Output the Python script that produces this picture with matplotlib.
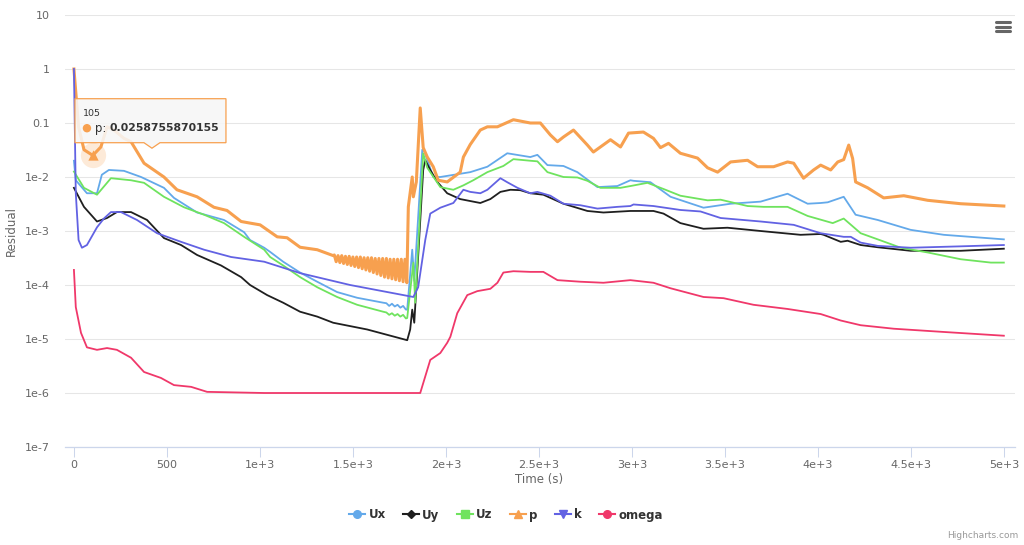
"""Residuals of a CFD run over time, drawn the way the Highcharts page shows them."""

import matplotlib

matplotlib.use("Agg")
import matplotlib.pyplot as plt
import matplotlib.patches as mpatches
import matplotlib.transforms as mtransforms
from matplotlib.lines import Line2D
from matplotlib.ticker import FixedLocator, FixedFormatter

# ---- data ----
ux_t = [0, 10, 70, 124, 150, 188, 269, 361, 484, 538, 662, 807, 915, 947, 1023, 1055, 1125,
        1216, 1308, 1415, 1523, 1663, 1680, 1695, 1710, 1725, 1740, 1755, 1770, 1785, 1792,
        1819, 1830, 1873, 1884, 1932, 1970, 2131, 2223, 2330, 2454, 2492, 2546, 2632, 2707,
        2815, 2922, 2992, 3009, 3100, 3208, 3385, 3531, 3692, 3837, 3945, 4015, 4053, 4139,
        4203, 4322, 4499, 4677, 5000]
ux_v = [0.02, 0.0087, 0.005, 0.005, 0.011, 0.0135, 0.013, 0.01, 0.0063, 0.0041, 0.0022,
        0.0016, 0.00095, 0.00068, 0.00049, 0.00041, 0.00027, 0.00017, 0.000115, 7.4e-5,
        5.8e-5, 4.7e-5, 4.6e-5, 4.1e-5, 4.5e-5, 4.0e-5, 4.3e-5, 3.8e-5, 4.1e-5, 3.5e-5,
        3.5e-5, 4.5e-4, 1.2e-4, 0.032, 0.03, 0.01, 0.01, 0.0123, 0.0155, 0.0275, 0.0234,
        0.0257, 0.0166, 0.016, 0.0123, 0.0065, 0.0068, 0.0087, 0.0085, 0.008, 0.0043,
        0.0027, 0.0032, 0.0035, 0.0049, 0.0032, 0.0033, 0.0034, 0.0043, 0.002, 0.0016,
        0.00105, 0.00085, 0.0007]

uy_t = [0, 54, 124, 178, 231, 307, 393, 484, 576, 662, 791, 899, 947, 1039, 1125, 1216,
        1308, 1394, 1577, 1792, 1808, 1819, 1830, 1878, 1889, 1916, 1954, 2007, 2077, 2185,
        2239, 2293, 2347, 2400, 2454, 2524, 2632, 2761, 2847, 2992, 3116, 3170, 3261, 3385,
        3514, 3692, 3907, 4015, 4031, 4123, 4160, 4230, 4322, 4499, 4768, 5000]
uy_v = [0.0063, 0.0028, 0.0015, 0.00174, 0.00224, 0.00224, 0.0016, 0.00074, 0.00055,
        0.00036, 0.00023, 0.00014, 0.0001, 6.5e-5, 4.7e-5, 3.2e-5, 2.6e-5, 2e-5, 1.5e-5,
        9.5e-6, 1.5e-5, 3.5e-5, 2e-5, 0.0135, 0.0204, 0.0135, 0.0081, 0.005, 0.0039, 0.0033,
        0.0039, 0.0053, 0.0058, 0.0057, 0.005, 0.0047, 0.0032, 0.00235, 0.0022, 0.00235,
        0.00235, 0.0021, 0.0014, 0.0011, 0.00115, 0.001, 0.00085, 0.00088, 0.00085, 0.00063,
        0.00066, 0.00055, 0.0005, 0.00043, 0.00043, 0.00047]

uz_t = [0, 54, 124, 199, 307, 377, 484, 592, 700, 807, 915, 1023, 1055, 1125, 1216, 1308,
        1415, 1523, 1663, 1680, 1695, 1710, 1725, 1740, 1755, 1770, 1785, 1792, 1825, 1835,
        1878, 1900, 1970, 2040, 2094, 2147, 2223, 2309, 2363, 2454, 2492, 2546, 2632, 2707,
        2761, 2831, 2939, 2992, 3084, 3170, 3261, 3407, 3477, 3622, 3708, 3837, 3945, 4080,
        4139, 4230, 4322, 4446, 4591, 4768, 4930, 5000]
uz_v = [0.0126, 0.0063, 0.0047, 0.0095, 0.0087, 0.0078, 0.0043, 0.00275, 0.002, 0.0014,
        0.00078, 0.00045, 0.00033, 0.00023, 0.00014, 9.1e-5, 6e-5, 4.3e-5, 3.2e-5, 3.1e-5,
        2.8e-5, 3.0e-5, 2.7e-5, 2.9e-5, 2.6e-5, 2.8e-5, 2.4e-5, 2.45e-5, 0.00026, 4.7e-5,
        0.0275, 0.0148, 0.0065, 0.0058, 0.007, 0.0087, 0.0123, 0.016, 0.0214, 0.02, 0.0195,
        0.0123, 0.01, 0.0098, 0.0085, 0.0063, 0.0063, 0.0068, 0.0078, 0.006, 0.0045,
        0.0037, 0.0038, 0.0029, 0.0028, 0.0028, 0.0019, 0.0014, 0.0017, 0.00091, 0.0007,
        0.00049, 0.0004, 0.0003, 0.00026, 0.00026]

p_t = [0, 25, 54, 97, 105, 145, 178, 215, 269, 307, 377, 484, 554, 662, 753, 823, 899, 947,
       1001, 1093, 1146, 1216, 1308, 1394,
       1400, 1410, 1420, 1430, 1440, 1450, 1460, 1470, 1480, 1490, 1500, 1510, 1520, 1530,
       1540, 1550, 1560, 1570, 1580, 1590, 1600, 1610, 1620, 1630, 1640, 1650, 1660, 1670,
       1680, 1690, 1700, 1710, 1720, 1730, 1740, 1750, 1760, 1770, 1780, 1790,
       1798, 1819, 1825, 1841, 1862, 1878, 1900, 1932, 1959, 2007, 2077, 2094, 2131, 2185,
       2223, 2277, 2363, 2454, 2508, 2562, 2600, 2632, 2686, 2761, 2793, 2885, 2939, 2982,
       3062, 3116, 3154, 3197, 3261, 3353, 3407, 3461, 3531, 3622, 3676, 3762, 3837, 3870,
       3923, 3977, 4015, 4069, 4107, 4139, 4166, 4187, 4203, 4268, 4354, 4462, 4591, 4768,
       5000]
p_v = [1.0, 0.085, 0.032, 0.0257, 0.0258755870155, 0.036, 0.085, 0.074, 0.052, 0.045,
       0.018, 0.01, 0.0058, 0.0043, 0.00275, 0.0024, 0.0015, 0.0014, 0.0013, 0.00078,
       0.00075, 0.0005, 0.00045, 0.00035,
       3.6e-4, 2.7e-4, 3.5e-4, 2.6e-4, 3.5e-4, 2.5e-4, 3.4e-4, 2.4e-4, 3.4e-4, 2.3e-4,
       3.3e-4, 2.2e-4, 3.3e-4, 2.1e-4, 3.3e-4, 2.0e-4, 3.2e-4, 1.9e-4, 3.2e-4, 1.8e-4,
       3.2e-4, 1.7e-4, 3.1e-4, 1.6e-4, 3.1e-4, 1.5e-4, 3.1e-4, 1.4e-4, 3.1e-4, 1.35e-4,
       3.0e-4, 1.3e-4, 3.0e-4, 1.25e-4, 3.0e-4, 1.2e-4, 3.0e-4, 1.15e-4, 3.0e-4, 1.1e-4,
       0.0028, 0.01, 0.0043, 0.0081, 0.19, 0.035, 0.0234, 0.0155, 0.0087, 0.0081, 0.0123,
       0.0234, 0.04, 0.074, 0.085, 0.085, 0.115, 0.1, 0.1, 0.06, 0.045, 0.055, 0.074,
       0.039, 0.029, 0.049, 0.036, 0.065, 0.068, 0.052, 0.035, 0.042, 0.0275, 0.0224,
       0.0148, 0.0123, 0.019, 0.0204, 0.0155, 0.0155, 0.019, 0.018, 0.0095, 0.0135, 0.0166,
       0.0135, 0.019, 0.021, 0.039, 0.022, 0.0081, 0.0063, 0.0041, 0.0045, 0.0037, 0.0032,
       0.0029]

k_t = [0, 10, 25, 43, 70, 124, 161, 199, 253, 339, 447, 576, 700, 845, 1023, 1216, 1485,
       1825, 1851, 1889, 1916, 1970, 2040, 2094, 2131, 2185, 2223, 2293, 2330, 2385, 2454,
       2492, 2562, 2632, 2723, 2815, 2922, 2992, 3009, 3116, 3261, 3369, 3477, 3692, 3870,
       4015, 4139, 4177, 4230, 4322, 4499, 4768, 5000]
k_v = [1.0, 0.005, 0.00068, 0.00049, 0.00055, 0.00117, 0.0017, 0.00224, 0.00224, 0.0016,
       0.00091, 0.00063, 0.00045, 0.00033, 0.00027, 0.000166, 0.0001, 6e-5, 9.1e-5,
       0.00068, 0.0021, 0.0027, 0.0033, 0.0058, 0.0053, 0.005, 0.0058, 0.0095, 0.008,
       0.0063, 0.005, 0.0053, 0.0045, 0.0032, 0.003, 0.0026, 0.0028, 0.0029, 0.0031,
       0.0029, 0.00245, 0.0023, 0.00174, 0.0015, 0.0013, 0.00091, 0.00078, 0.00078,
       0.00061, 0.00053, 0.00049, 0.00052, 0.00055]

omega_t = [0, 10, 38, 70, 124, 178, 231, 307, 377, 468, 538, 630, 716, 1023, 1862, 1916,
           1970, 2007, 2024, 2061, 2115, 2169, 2239, 2277, 2309, 2363, 2454, 2524, 2600,
           2723, 2847, 2992, 3116, 3208, 3385, 3493, 3654, 3837, 4015, 4123, 4230, 4408,
           4677, 5000]
omega_v = [0.00019, 3.9e-5, 1.3e-5, 7e-6, 6.3e-6, 6.8e-6, 6.3e-6, 4.5e-6, 2.45e-6, 1.9e-6,
           1.4e-6, 1.3e-6, 1.05e-6, 1.0e-6, 1.0e-6, 4.1e-6, 5.5e-6, 8.5e-6, 1.1e-5, 3e-5,
           6.5e-5, 7.7e-5, 8.5e-5, 1.1e-4, 1.7e-4, 1.8e-4, 1.75e-4, 1.75e-4, 1.23e-4,
           1.15e-4, 1.1e-4, 1.23e-4, 1.1e-4, 8.7e-5, 6e-5, 5.7e-5, 4.3e-5, 3.6e-5, 2.9e-5,
           2.2e-5, 1.8e-5, 1.55e-5, 1.35e-5, 1.15e-5]

series_names = ["Ux", "Uy", "Uz", "p", "k", "omega"]

y_ticks = [1e-7, 1e-6, 1e-5, 1e-4, 1e-3, 1e-2, 0.1, 1, 10]
y_tick_labels = ["1e-7", "1e-6", "1e-5", "1e-4", "1e-3", "1e-2", "0.1", "1", "10"]
x_ticks = [0, 500, 1000, 1500, 2000, 2500, 3000, 3500, 4000, 4500, 5000]
x_tick_labels = ["0", "500", "1e+3", "1.5e+3", "2e+3", "2.5e+3", "3e+3", "3.5e+3",
                 "4e+3", "4.5e+3", "5e+3"]

tip_time = 105
tip_value = 0.0258755870155

# ---- styling ----
COLORS = {
    "Ux": "#63a9ea",
    "Uy": "#1f1f1f",
    "Uz": "#6fe35e",
    "p": "#f7a04f",
    "k": "#6262e3",
    "omega": "#f0386a",
}
MARKERS = {"Ux": "o", "Uy": "D", "Uz": "s", "p": "^", "k": "v", "omega": "o"}
LABEL_GREY = "#666666"
W, H = 1024, 545

plt.rcParams["font.family"] = ["DejaVu Sans"]

fig = plt.figure(figsize=(W / 100, H / 100), dpi=100)
fig.patch.set_facecolor("white")
ax = fig.add_axes([65 / W, (H - 447) / H, 950 / W, 432 / H])

data = {
    "Ux": (ux_t, ux_v),
    "Uy": (uy_t, uy_v),
    "Uz": (uz_t, uz_v),
    "p": (p_t, p_v),
    "k": (k_t, k_v),
    "omega": (omega_t, omega_v),
}
for name in series_names:
    t, v = data[name]
    lw = 2.2 if name == "p" else 1.3
    ax.plot(t, v, color=COLORS[name], lw=lw, solid_joinstyle="round", zorder=3)

ax.set_yscale("log")
ax.set_ylim(1e-7, 10)
ax.set_xlim(-48, 5060)

ax.yaxis.set_major_locator(FixedLocator(y_ticks))
ax.yaxis.set_major_formatter(FixedFormatter(y_tick_labels))
ax.yaxis.set_minor_locator(FixedLocator([]))
ax.xaxis.set_major_locator(FixedLocator(x_ticks))
ax.xaxis.set_major_formatter(FixedFormatter(x_tick_labels))

ax.grid(axis="y", color="#e6e6e6", lw=0.75)
ax.set_axisbelow(True)
for side in ["top", "right", "left"]:
    ax.spines[side].set_visible(False)
ax.spines["bottom"].set_color("#ccd6eb")
ax.spines["bottom"].set_linewidth(0.9)
ax.tick_params(axis="y", length=0, pad=11, labelsize=8, labelcolor=LABEL_GREY)
ax.tick_params(axis="x", length=7, width=0.75, color="#ccd6eb", pad=2, labelsize=8,
               labelcolor=LABEL_GREY)

fig.text(11 / W, 1 - 231 / H, "Residual", rotation=90, ha="center", va="center",
         fontsize=8.5, color=LABEL_GREY)
fig.text(539 / W, 1 - 480 / H, "Time (s)", ha="center", va="center", fontsize=8.5,
         color=LABEL_GREY)

# legend under the plot
handles = [
    Line2D([], [], color=COLORS[n], marker=MARKERS[n], lw=1.5,
           markersize=4.5 if n == "Uy" else 5.5)
    for n in series_names
]
fig.legend(handles, series_names, loc="center", bbox_to_anchor=(506 / W, 1 - 515 / H),
           ncol=6, frameon=False, handlelength=1.35, handletextpad=0.3, columnspacing=1.45,
           prop={"weight": "bold", "size": 8.5}, labelcolor="#333333")

# credits and menu icon
fig.text(1018 / W, 1 - 535 / H, "Highcharts.com", ha="right", va="center", fontsize=6.5,
         color="#999999")
for y in [22, 26.5, 31]:
    fig.add_artist(Line2D([996 / W, 1010 / W], [1 - y / H, 1 - y / H], color="#666666",
                          lw=2.2, solid_capstyle="round"))

# hovered point with tooltip
ax.scatter([tip_time], [tip_value], s=330, color=COLORS["p"], alpha=0.22, lw=0, zorder=4)
ax.scatter([tip_time], [tip_value], s=55, marker="^", color=COLORS["p"], lw=0, zorder=5)

px, py = ax.transData.transform((tip_time, tip_value))
ident = mtransforms.IdentityTransform()
left, right, top, bottom = px - 18.5, px + 132.5, py + 56, py + 12
outline = [(left, top), (right, top), (right, bottom), (px + 66.5, bottom),
           (px + 58.5, py + 6.5), (px + 50.5, bottom), (left, bottom)]
fig.add_artist(mpatches.Polygon(outline, closed=True, transform=ident, facecolor="#f7f7f7",
                                alpha=0.88, edgecolor="none", zorder=10))
fig.add_artist(mpatches.Polygon(outline, closed=True, transform=ident, facecolor="none",
                                edgecolor=COLORS["p"], lw=0.9, zorder=11))
fig.text(px - 10.5, py + 41.5, str(tip_time), transform=ident, ha="left", va="center",
         fontsize=6.8, color="#333333", zorder=12)
fig.add_artist(mpatches.Circle((px - 6.5, py + 26.5), 3.5, transform=ident,
                               color=COLORS["p"], zorder=12))
fig.text(px + 1.5, py + 26.5, "p:", transform=ident, ha="left", va="center", fontsize=8.4,
         color="#333333", zorder=12)
fig.text(px + 16.5, py + 26.5, f"{tip_value}", transform=ident, ha="left", va="center",
         fontsize=7.8, fontweight="bold", color="#333333", zorder=12)

fig.savefig("out.png", dpi=100)
